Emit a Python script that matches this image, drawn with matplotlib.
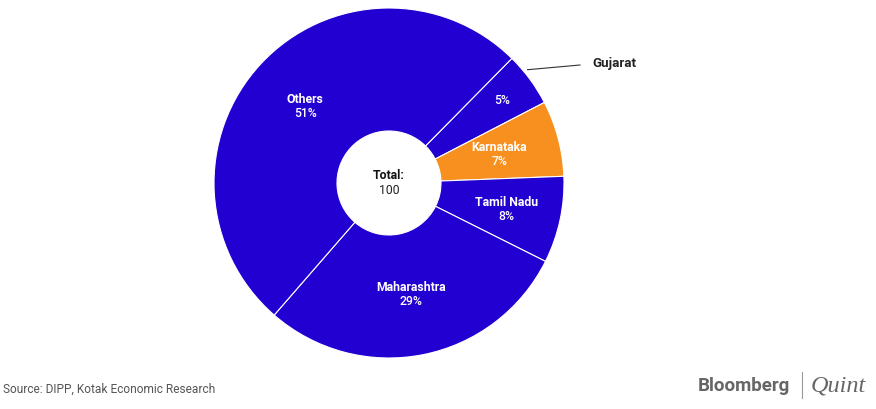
import matplotlib
matplotlib.use("Agg")
import matplotlib.pyplot as plt
import numpy as np

states = ["Gujarat", "Karnataka", "Tamil Nadu", "Maharashtra", "Others"]
shares = [5, 7, 8, 29, 51]
total_label = "Total:"
total_value = 100
source = "Source: DIPP, Kotak Economic Research"

BLUE = "#2200D2"
ORANGE = "#F7901E"
colors = [BLUE, ORANGE, BLUE, BLUE, BLUE]
label_r = [140, 114, 120, 113, 114]

plt.rcParams['font.family'] = ['Roboto', 'DejaVu Sans']

W, H = 876, 410
fig = plt.figure(figsize=(W / 100, H / 100), dpi=100)
ax = fig.add_axes([0, 0, 1, 1])

cx, cy, R, r_in = 389, 226, 175, 52
wedges, _ = ax.pie(shares, colors=colors, startangle=45.4, counterclock=False,
                   center=(cx, cy), radius=R, frame=True,
                   wedgeprops=dict(width=R - r_in, edgecolor='white', linewidth=0.8))
ax.set_xlim(0, W)
ax.set_ylim(0, H)
ax.set_aspect('equal')
ax.axis('off')

FS = 8.8
for w, name, val, lr in zip(wedges, states, shares, label_r):
    mid = np.deg2rad((w.theta1 + w.theta2) / 2)
    x = cx + lr * np.cos(mid)
    y = cy + lr * np.sin(mid)
    if name == "Gujarat":
        ax.text(x, y, f"{val}%", color='white', ha='center', va='center', fontsize=FS,
                fontweight='medium')
        ex = cx + (R + 4) * np.cos(mid + 0.05)
        ey = cy + (R + 4) * np.sin(mid + 0.05)
        ax.plot([ex, 580], [ey, H - 66], color='#333333', lw=0.8)
        ax.text(592, H - 64, name, color='#222222', fontweight='bold', fontsize=9.6,
                ha='left', va='center')
    else:
        ax.text(x, y + 7, name, color='white', fontweight='bold', ha='center',
                va='center', fontsize=FS)
        ax.text(x, y - 7, f"{val}%", color='white', ha='center', va='center', fontsize=FS,
                fontweight='medium')

ax.text(cx, cy + 8, total_label, color='#111111', fontweight='bold', ha='center',
        va='center', fontsize=FS)
ax.text(cx, cy - 7, str(total_value), color='#222222', ha='center', va='center', fontsize=FS)

ax.text(3, H - 389, source, color='#555555', fontsize=8.6, ha='left', va='center')

ax.text(790, H - 386, "Bloomberg", color='#666666', fontweight='bold', fontsize=13.5,
        ha='right', va='center')
ax.plot([802, 802], [H - 373, H - 399], color='#999999', lw=0.8)
ax.text(811, H - 386, "Quint", color='#666666', fontsize=17.5, style='italic',
        family=['Liberation Serif'], ha='left', va='center')

fig.savefig("out.png", dpi=100, facecolor='white')
